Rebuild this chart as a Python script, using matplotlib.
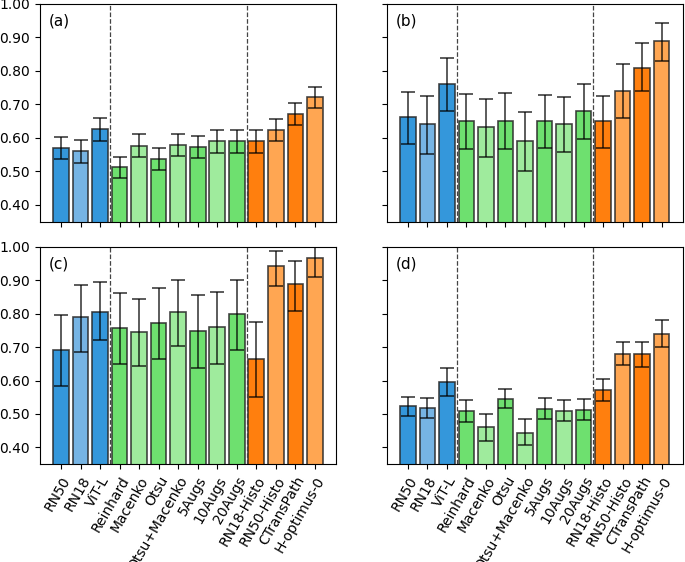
import matplotlib.pyplot as plt
import numpy as np

methods = ['RN50', 'RN18', 'ViT-L', 'Reinhard', 'Macenko', 'Otsu', 'Otsu+Macenko',
           '5Augs', '10Augs', '20Augs', 'RN18-Histo', 'RN50-Histo', 'CTransPath', 'H-optimus-0']

# panel (a)
mean_a = [0.571, 0.560, 0.626, 0.512, 0.577, 0.538, 0.579, 0.573, 0.590, 0.590, 0.590, 0.623, 0.672, 0.721]
lo_a = [0.536, 0.526, 0.590, 0.481, 0.543, 0.504, 0.546, 0.539, 0.556, 0.556, 0.556, 0.591, 0.639, 0.689]
hi_a = [0.604, 0.594, 0.660, 0.543, 0.611, 0.571, 0.613, 0.606, 0.624, 0.624, 0.624, 0.656, 0.705, 0.752]
# panel (b)
mean_b = [0.661, 0.640, 0.760, 0.650, 0.631, 0.650, 0.590, 0.650, 0.640, 0.680, 0.650, 0.741, 0.810, 0.890]
lo_b = [0.581, 0.553, 0.679, 0.566, 0.544, 0.567, 0.502, 0.570, 0.559, 0.597, 0.571, 0.658, 0.740, 0.831]
hi_b = [0.737, 0.726, 0.838, 0.732, 0.715, 0.734, 0.676, 0.729, 0.721, 0.760, 0.724, 0.820, 0.882, 0.943]
# panel (c)
mean_c = [0.691, 0.789, 0.806, 0.756, 0.745, 0.771, 0.806, 0.748, 0.760, 0.800, 0.664, 0.943, 0.888, 0.966]
lo_c = [0.585, 0.686, 0.720, 0.650, 0.642, 0.663, 0.702, 0.636, 0.649, 0.691, 0.551, 0.881, 0.807, 0.909]
hi_c = [0.796, 0.886, 0.893, 0.860, 0.843, 0.877, 0.899, 0.855, 0.865, 0.900, 0.775, 0.988, 0.956, 0.998]
# panel (d)
mean_d = [0.523, 0.519, 0.595, 0.509, 0.460, 0.546, 0.444, 0.516, 0.510, 0.513, 0.573, 0.680, 0.679, 0.739]
lo_d = [0.495, 0.487, 0.553, 0.477, 0.418, 0.518, 0.407, 0.485, 0.478, 0.483, 0.539, 0.645, 0.640, 0.699]
hi_d = [0.550, 0.548, 0.636, 0.543, 0.500, 0.576, 0.484, 0.547, 0.542, 0.544, 0.604, 0.715, 0.716, 0.781]

BLUE, LBLUE = '#3497db', '#76b4e4'
GREEN, LGREEN = '#6ee06f', '#9feb9d'
ORANGE, LORANGE = '#ff7f0e', '#ffa652'
colors = [BLUE, LBLUE, BLUE,
          GREEN, LGREEN, GREEN, LGREEN, GREEN, LGREEN, GREEN,
          ORANGE, LORANGE, ORANGE, LORANGE]

panels = [('(a)', mean_a, lo_a, hi_a), ('(b)', mean_b, lo_b, hi_b),
          ('(c)', mean_c, lo_c, hi_c), ('(d)', mean_d, lo_d, hi_d)]

fig, axes = plt.subplots(2, 2, figsize=(6.85, 5.62), dpi=100, sharex=True, sharey=True)
fig.subplots_adjust(left=0.058, right=0.997, top=0.993, bottom=0.174, wspace=0.17, hspace=0.115)

x = np.arange(len(methods))
for ax, (tag, mean, lo, hi) in zip(axes.flat, panels):
    mean = np.array(mean)
    yerr = [mean - np.array(lo), np.array(hi) - mean]
    ax.bar(x, mean, width=0.8, color=colors, edgecolor=(0.15, 0.15, 0.15, 0.85), linewidth=1.2,
           yerr=yerr, capsize=5, error_kw=dict(ecolor='black', elinewidth=1.2, capthick=1.2, alpha=0.75))
    for xv in (2.5, 9.5):
        ax.axvline(xv, color='#444444', linestyle='--', linewidth=0.9)
    ax.text(0.03, 0.92, tag, transform=ax.transAxes, ha='left', va='center', fontsize=11)
    ax.set_ylim(0.35, 1.0)
    ax.set_yticks([0.4, 0.5, 0.6, 0.7, 0.8, 0.9, 1.0])
    ax.set_yticklabels([f'{v:.2f}' for v in [0.4, 0.5, 0.6, 0.7, 0.8, 0.9, 1.0]])
    ax.tick_params(labelsize=10)

for ax in axes[1]:
    ax.set_xticks(x)
    ax.set_xticklabels(methods, rotation=60, ha='right', rotation_mode='anchor', fontsize=10)

fig.savefig('out.png', dpi=100)
